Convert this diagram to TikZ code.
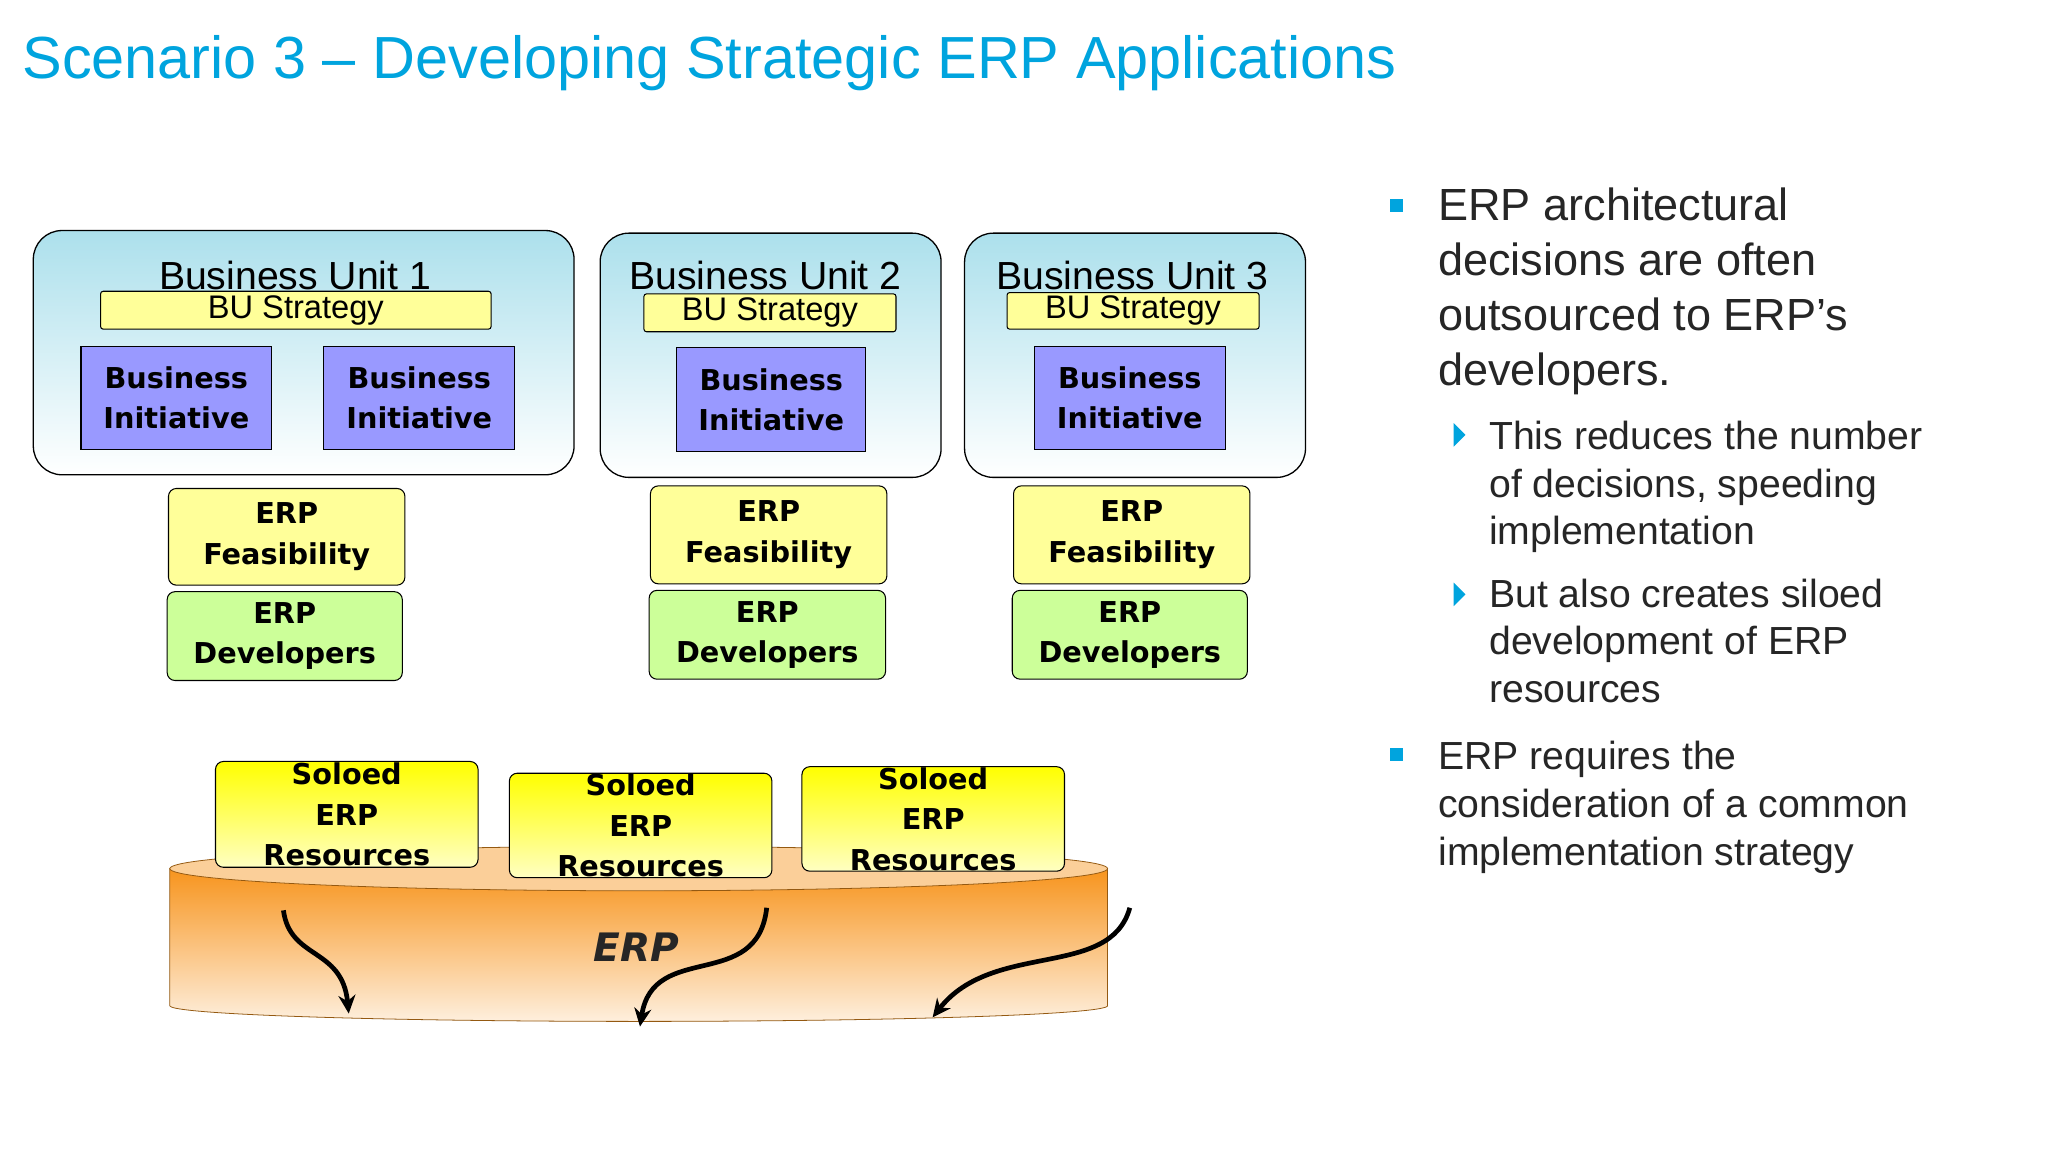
\documentclass[tikz,border=0pt]{standalone}
\usepackage{fontspec}
\setmainfont{Liberation Sans}
\newfontfamily\vfont{DejaVu Sans}
\usetikzlibrary{arrows.meta}
\definecolor{ttl}{RGB}{0,164,222}
\definecolor{ini}{RGB}{153,153,255}
\definecolor{yel}{RGB}{255,255,153}
\definecolor{grn}{RGB}{204,255,153}
\definecolor{org}{RGB}{247,148,29}
\definecolor{bucyan}{RGB}{172,224,236}
\tikzset{
 bu/.style={draw,rounded corners=22pt,line width=1pt,top color=bucyan,bottom color=white,minimum height=187pt,anchor=north west},
 strat/.style={draw,fill=yel,line width=0.8pt,rounded corners=2pt,font=\fontsize{25}{27}\selectfont,inner sep=0pt},
 init/.style={draw,fill=ini,line width=0.8pt,align=center,font=\vfont\bfseries\fontsize{22}{31}\selectfont,inner sep=0pt},
 feas/.style={draw,fill=yel,line width=0.8pt,rounded corners=6pt,align=center,font=\vfont\bfseries\fontsize{22}{31}\selectfont,inner sep=0pt},
 dev/.style={feas,fill=grn},
 solo/.style={draw,rounded corners=6pt,line width=0.8pt,top color=yellow,bottom color=yel!60,align=center,font=\vfont\bfseries\fontsize{22}{31}\selectfont,inner sep=0pt},
 flow/.style={line width=3.6pt,-{Stealth[length=14pt,width=13pt]}},
 txt/.style={anchor=base west,font=\fontsize{34.5}{42}\selectfont,text=black!85,inner sep=0pt},
 stx/.style={anchor=base west,font=\fontsize{30}{36}\selectfont,text=black!85,inner sep=0pt},
 bul/.style={anchor=base,font=\fontsize{30}{32}\selectfont,inner sep=0pt}
}
\begin{document}
\begin{tikzpicture}[x=1pt,y=-1pt]
\fill[white] (0,0) rectangle (1568,882);
\node[anchor=base west,text=ttl,font=\fontsize{45.5}{48}\selectfont,inner sep=0pt] (title) at (17,60) {Scenario 3 – Developing Strategic ERP Applications};
% business units
\node[bu,minimum width=414pt] (bu1) at (25,176) {};
\node[bu,minimum width=261pt] (bu2) at (459,178) {};
\node[bu,minimum width=261pt] (bu3) at (738,178) {};
\node[bul] (l1) at (226,222) {Business Unit 1};
\node[bul] (l2) at (586,222) {Business Unit 2};
\node[bul] (l3) at (867,222) {Business Unit 3};
\node[strat,minimum width=299pt,minimum height=29pt] (s1) at (226.5,237.5) {BU Strategy};
\node[strat,minimum width=193pt,minimum height=29pt] (s2) at (589.5,239.5) {BU Strategy};
\node[strat,minimum width=193pt,minimum height=28pt] (s3) at (867.5,238) {BU Strategy};
\node[init,minimum width=146pt,minimum height=79pt] (i1) at (135,304.5) {Business\\Initiative};
\node[init,minimum width=146pt,minimum height=79pt] (i2) at (321,304.5) {Business\\Initiative};
\node[init,minimum width=145pt,minimum height=80pt] (i3) at (590.5,306) {Business\\Initiative};
\node[init,minimum width=146pt,minimum height=79pt] (i4) at (865,304.5) {Business\\Initiative};
% feasibility / developers
\node[feas,minimum width=181pt,minimum height=74pt] (f1) at (219.5,411) {ERP\\Feasibility};
\node[feas,minimum width=181pt,minimum height=75pt] (f2) at (588.5,409.5) {ERP\\Feasibility};
\node[feas,minimum width=181pt,minimum height=75pt] (f3) at (866.5,409.5) {ERP\\Feasibility};
\node[dev,minimum width=180pt,minimum height=68pt] (d1) at (218,487) {ERP\\Developers};
\node[dev,minimum width=181pt,minimum height=68pt] (d2) at (587.5,486) {ERP\\Developers};
\node[dev,minimum width=180pt,minimum height=68pt] (d3) at (865,486) {ERP\\Developers};
% cylinder
\shade[top color=org,bottom color=org!15,draw=org!60!black,line width=0.6pt] (130,665) -- (130,770) arc[start angle=180,end angle=0,x radius=359,y radius=12] -- (848,665) -- cycle;
\draw[fill=org!45,draw=org!60!black,line width=0.6pt] (489,665) ellipse[x radius=359,y radius=17];
\node[font=\vfont\bfseries\itshape\fontsize{30}{32}\selectfont,text=black!85] (erp) at (487,725) {ERP};
% soloed
\node[solo,minimum width=201pt,minimum height=81pt] (r1) at (265.5,623.5) {Soloed\\ERP\\Resources};
\node[solo,minimum width=201pt,minimum height=80pt] (r2) at (490.5,632) {Soloed\\ERP\\Resources};
\node[solo,minimum width=201pt,minimum height=80pt] (r3) at (714.5,627) {Soloed\\ERP\\Resources};
% arrows
\coordinate (a1s) at (217,697); \coordinate (a1e) at (267,776);
\coordinate (a2s) at (587,695); \coordinate (a2e) at (490,786);
\coordinate (a3s) at (865,695); \coordinate (a3e) at (714,779);
\draw[flow] (a1s) .. controls (222,735) and (262,725) .. (a1e);
\draw[flow] (a2s) .. controls (580,760) and (500,720) .. (a2e);
\draw[flow] (a3s) .. controls (850,750) and (760,720) .. (a3e);
% bullets
\fill[ttl] (1064,152) rectangle (1074,162);
\node[txt] (b1) at (1101,169) {ERP architectural};
\node[txt] at (1101,211) {decisions are often};
\node[txt] at (1101,253) {outsourced to ERP’s};
\node[txt] at (1101,295) {developers.};
\fill[ttl] (1113,324) -- (1122,333) -- (1113,342) -- cycle;
\node[stx] at (1140,344) {This reduces the number};
\node[stx] at (1140,381) {of decisions, speeding};
\node[stx] at (1140,417) {implementation};
\fill[ttl] (1113,446) -- (1122,455) -- (1113,464) -- cycle;
\node[stx] at (1140,465) {But also creates siloed};
\node[stx] at (1140,501) {development of ERP};
\node[stx] at (1140,538) {resources};
\fill[ttl] (1064,573) rectangle (1074,583);
\node[stx] at (1101,589) {ERP requires the};
\node[stx] at (1101,626) {consideration of a common};
\node[stx] at (1101,663) {implementation strategy};
\end{tikzpicture}
\end{document}
